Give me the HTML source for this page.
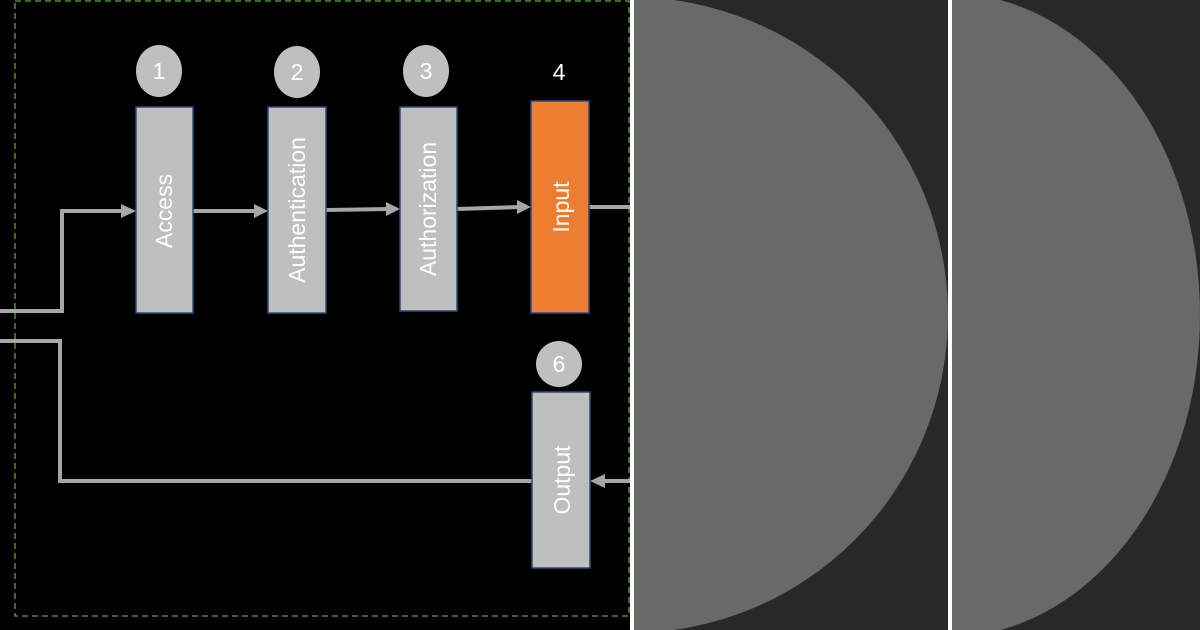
<!DOCTYPE html>
<html><head><style>body{margin:0;background:#000}svg{display:block}</style></head><body>
<svg width="1200" height="630" viewBox="0 0 1200 630" xmlns="http://www.w3.org/2000/svg" font-family="Liberation Sans, sans-serif">
<rect width="1200" height="630" fill="#fff"/>
<rect x="0" y="0" width="630" height="630" fill="#000"/>
<rect x="634" y="0" width="314" height="630" fill="#282828"/>
<rect x="952" y="0" width="248" height="630" fill="#282828"/>
<clipPath id="c1"><rect x="634" y="0" width="314" height="630"/></clipPath>
<clipPath id="c2"><rect x="952" y="0" width="248" height="630"/></clipPath>
<ellipse cx="630" cy="315" rx="318" ry="318" fill="#696969" clip-path="url(#c1)"/>
<ellipse cx="948" cy="315" rx="252" ry="322" fill="#696969" clip-path="url(#c2)"/>
<rect x="15" y="1" width="614" height="615" fill="none" stroke="#5fa545" stroke-width="1.3" stroke-dasharray="6,4"/>
<g stroke="#a6a6a6" stroke-width="4" fill="none">
<polyline points="0,311 62,311 62,211 122,211" />
<line x1="193" y1="211" x2="256" y2="211"/>
<line x1="326" y1="210" x2="388" y2="209"/>
<line x1="457" y1="209" x2="519" y2="207"/>
<line x1="589" y1="207" x2="630" y2="207"/>
<polyline points="0,341 60,341 60,481 532,481"/>
<line x1="630" y1="481" x2="604" y2="481"/>
</g>
<g fill="#a6a6a6">
<path d="M121,204 L136,211 L121,218z"/>
<path d="M254,204 L268,211 L254,218z"/>
<path d="M386,202 L400,209 L386,216z"/>
<path d="M517,200 L531,207 L517,214z"/>
<path d="M605,474 L590,481 L605,488z"/>
</g>
<g stroke="#2f4a7a" stroke-width="1.5">
<rect x="136" y="107" width="57" height="206" fill="#bfbfbf"/>
<rect x="268" y="107" width="58" height="206" fill="#bfbfbf"/>
<rect x="400" y="107" width="57" height="204" fill="#bfbfbf"/>
<rect x="531" y="101" width="58" height="212" fill="#ed7d31"/>
<rect x="532" y="392" width="58" height="176" fill="#bfbfbf"/>
</g>
<g fill="#bfbfbf">
<ellipse cx="159" cy="71" rx="23" ry="26"/>
<ellipse cx="297" cy="72" rx="23" ry="26"/>
<ellipse cx="426" cy="71" rx="23" ry="26"/>
<ellipse cx="559" cy="364" rx="23" ry="23"/>
</g>
<g fill="#fff" font-size="23" text-anchor="middle">
<text x="159" y="79">1</text><text x="297" y="80">2</text><text x="426" y="79">3</text>
<text x="559" y="80">4</text><text x="559" y="372">6</text>
</g>
<g fill="#fff" font-size="23" text-anchor="middle">
<text transform="translate(172,211) rotate(-90)">Access</text>
<text transform="translate(305,210) rotate(-90)">Authentication</text>
<text transform="translate(436,209) rotate(-90)">Authorization</text>
<text transform="translate(569,207) rotate(-90)">Input</text>
<text transform="translate(570,480) rotate(-90)">Output</text>
</g>
</svg>
</body></html>
